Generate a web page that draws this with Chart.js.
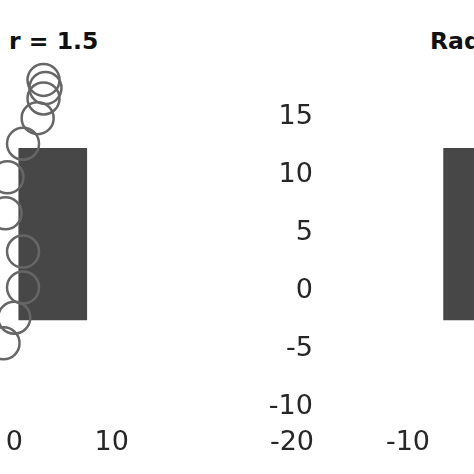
<!DOCTYPE html>
<html><head><meta charset="utf-8">
<script src="https://cdn.jsdelivr.net/npm/chart.js@4"></script>
<style>
html,body{margin:0;padding:0;width:474px;height:474px;overflow:hidden;background:#fff;position:relative;font-family:"DejaVu Sans",sans-serif}
canvas{position:absolute;top:0}
.t{position:absolute;top:27px;font-weight:bold;font-size:23.5px;color:#111;white-space:nowrap}
</style></head><body>
<div class="t" style="left:9px">r = 1.5</div>
<div class="t" style="left:430px">Radius</div>
<div id="w1" style="position:absolute;left:-53px;top:0;width:232px;height:474px"><canvas id="c1"></canvas></div>
<div id="w2" style="position:absolute;left:250px;top:0;width:332px;height:474px"><canvas id="c2"></canvas></div>
<script>
const circleX = [3.0, 3.2, 3.0, 2.4, 0.9, -0.7, -0.9, 0.9, 0.9, 0.0, -1.1];
const circleY = [18.2, 17.5, 16.6, 14.9, 12.7, 9.8, 6.7, 3.4, 0.3, -2.3, -4.5];
const leftBarX = [3.95];
const leftBarRange = [[-2.5, 12.3]];
const rightBarX = [-4.0];
const rightBarRange = [[-2.5, 12.3]];
const leftXTicks = [0, 10];
const rightXTicks = [-20, -10];
const yTicks = [-10, -5, 0, 5, 10, 15];

const tickFont = {family: "DejaVu Sans", size: 27};
const tickColor = '#262626';
function xAxis(min, max, ticks) {
  return {type: 'linear', min, max, offset: false, grid: {display: false, offset: false}, border: {display: false},
    ticks: {font: tickFont, color: tickColor, padding: 12, maxRotation: 0},
    afterBuildTicks: s => { s.ticks = ticks.map(v => ({value: v})); },
    afterFit: s => { s.height = 60; }};
}
const common = {responsive: true, maintainAspectRatio: false, animation: false,
  layout: {padding: {top: 59, bottom: 7, left: 0, right: 0}},
  plugins: {legend: {display: false}, tooltip: {enabled: false}}};

new Chart(document.getElementById('c1'), {
  type: 'bar',
  data: {datasets: [
    {type: 'bar', data: leftBarX.map((x, i) => ({x, y: leftBarRange[i]})), backgroundColor: '#474747', barThickness: 68, order: 2},
    {type: 'scatter', data: circleX.map((x, i) => ({x, y: circleY[i]})), pointRadius: 16, borderWidth: 2.5,
     borderColor: '#666', backgroundColor: 'rgba(0,0,0,0)', clip: false, order: 1}
  ]},
  options: Object.assign({}, common, {scales: {
    x: xAxis(-5, 15, leftXTicks),
    y: {type: 'linear', min: -10, max: 20, display: false}
  }})
});

new Chart(document.getElementById('c2'), {
  type: 'bar',
  data: {datasets: [
    {type: 'bar', data: rightBarX.map((x, i) => ({x, y: rightBarRange[i]})), backgroundColor: '#474747', barThickness: 68}
  ]},
  options: Object.assign({}, common, {scales: {
    x: xAxis(-23.62, 5, rightXTicks),
    y: {type: 'linear', min: -10, max: 20, position: {x: -18.2},
      grid: {display: false}, border: {display: false},
      ticks: {font: tickFont, color: tickColor, padding: 3},
      afterBuildTicks: s => { s.ticks = yTicks.map(v => ({value: v})); }}
  }})
});
</script>
</body></html>
